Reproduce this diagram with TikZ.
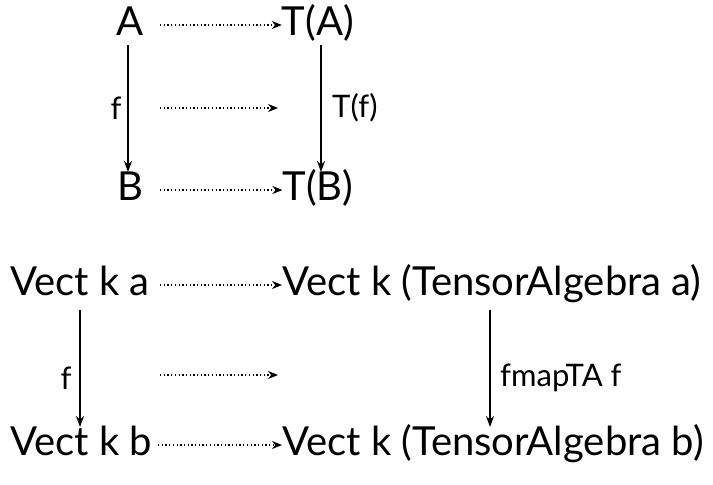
\documentclass[tikz,border=0pt]{standalone}
\usepackage{fontspec}
\setmainfont{Lato}
\usetikzlibrary{arrows.meta}
\begin{document}
\begin{tikzpicture}[x=1pt,y=-1pt,
  big/.style={font=\fontsize{40}{44}\selectfont, inner sep=0pt, text height=29pt, text depth=8pt},
  lab/.style={font=\fontsize{31}{34}\selectfont, inner sep=0pt},
  dotarr/.style={line width=1.3pt, dash pattern=on 1.3pt off 2.4pt, -{Stealth[length=10pt,width=8pt]}},
  solarr/.style={line width=1.5pt, -{Stealth[length=11pt,width=8pt]}}]
\useasboundingbox (0,0) rectangle (713,485);
\node[big] (A) at (130,25) {A};
\node[big] (TA) at (318,25) {T(A)};
\node[big] (B) at (130,190) {B};
\node[big] (TB) at (318,190) {T(B)};
\coordinate (a1) at (160,25); \draw[dotarr] (a1) -- (TA.west|-a1);
\coordinate (b1) at (160,190); \draw[dotarr] (b1) -- (TB.west|-b1);
\coordinate (m1) at (160,108); \coordinate (m2) at (278,108);
\draw[dotarr] (m1) -- (m2);
\draw[solarr] (128,45) coordinate (f1) -- (128,172) coordinate (f2);
\node[lab] (fl) at (116,108) {f};
\draw[solarr] (321,45) coordinate (g1) -- (321,172) coordinate (g2);
\node[lab,anchor=west] (tfl) at (332,108) {T(f)};

\node[big,anchor=west] (Va) at (10,285) {Vect k a};
\node[big,anchor=west] (VTa) at (282,285) {Vect k (TensorAlgebra a)};
\node[big,anchor=west] (Vb) at (10,445) {Vect k b};
\node[big,anchor=west] (VTb) at (282,445) {Vect k (TensorAlgebra b)};
\coordinate (c1) at (160,285); \draw[dotarr] (c1) -- (VTa.west|-c1);
\coordinate (d1) at (158,445); \draw[dotarr] (d1) -- (VTb.west|-d1);
\coordinate (n1) at (160,375); \coordinate (n2) at (278,375);
\draw[dotarr] (n1) -- (n2);
\draw[solarr] (80,310) coordinate (h1) -- (80,427) coordinate (h2);
\node[lab] (fl2) at (66,378) {f};
\draw[solarr] (490,310) coordinate (k1) -- (490,427) coordinate (k2);
\node[lab,anchor=west] (fm) at (500,378) {fmapTA f};
\end{tikzpicture}
\end{document}
